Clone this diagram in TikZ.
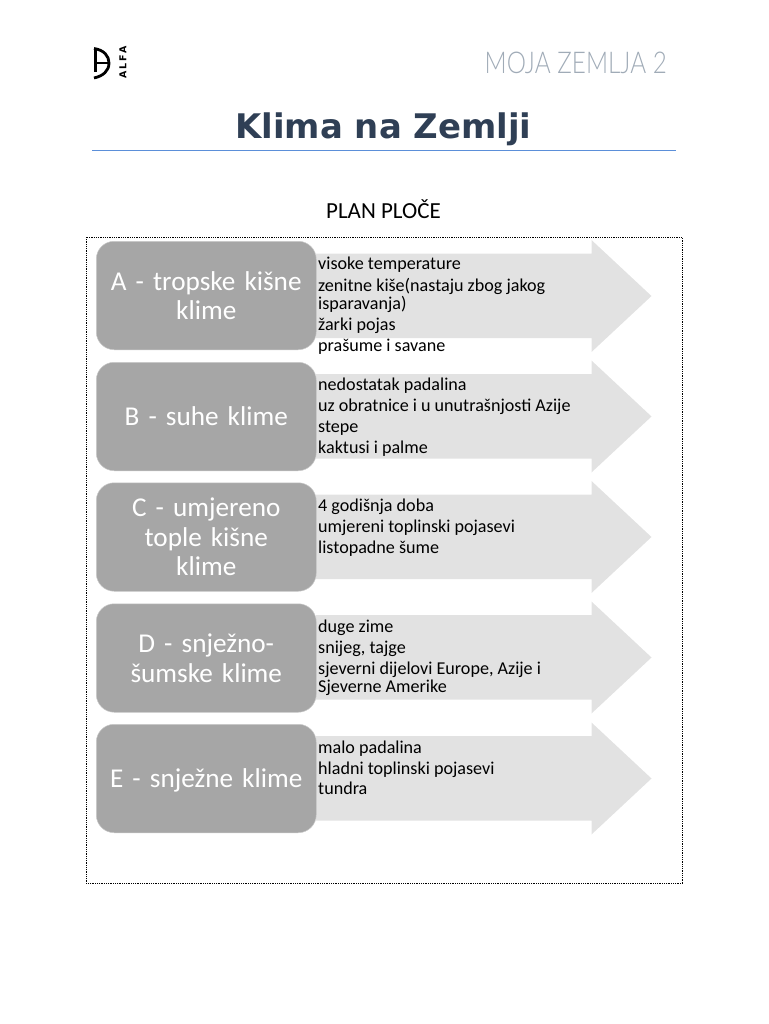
\documentclass[tikz,border=0pt]{standalone}
\usepackage{graphicx}
\usepackage{fontspec}
\setmainfont{Carlito}
\newfontfamily\titlefont{DejaVu Sans}
\newfontfamily\brandfont{Lato Light}
\newfontfamily\boxfont[WordSpace=0.8]{Carlito}
\definecolor{boxgray}{HTML}{A6A6A6}
\definecolor{arrowgray}{HTML}{E2E2E2}
\definecolor{titleblue}{HTML}{2F3F55}
\definecolor{rulerblue}{HTML}{5B8FD9}
\definecolor{brandgray}{HTML}{A0ABB7}
\tikzset{
  climatebox/.style={draw=boxgray!60!white,line width=0.5pt,fill=boxgray,rounded corners=18pt,minimum width=220pt,minimum height=108.5pt,anchor=north west,inner sep=0pt,text=white,align=center,text width=215pt,font=\boxfont\fontsize{27.2}{29.5}\selectfont},
  bodyline/.style={anchor=base west,inner sep=0pt,text=black,font=\fontsize{18.1}{20}\selectfont},
  arrowshape/.style={fill=arrowgray,draw=none}
}
\newcommand{\bigarrow}[1]{%
  \fill[arrowshape] (316,#1+13.5) -- (591.5,#1+13.5) -- (591.5,#1) -- (651.5,#1+56) -- (591.5,#1+112) -- (591.5,#1+98) -- (316,#1+98) -- cycle;}
\begin{document}
\begin{tikzpicture}[x=1pt,y=-1pt]
\useasboundingbox (0,0) rectangle (768,1024);
% logo
\draw[black,line width=2.8pt] (95.5,48.5) -- (95.5,72);
\draw[black,line width=2.8pt] (94,48.5) .. controls (104,50) and (109,56) .. (109,63) .. controls (109,71) and (103,76) .. (94,78);
\draw[black,line width=2.2pt] (95,63) -- (109,63);
\node[rotate=90,inner sep=0pt,font=\titlefont\bfseries\fontsize{9.5}{11}\selectfont,text=black] (alfa) at (123,62.5) {A\,L\,F\,A};
% brand
\node[inner sep=0pt,text=brandgray,font=\brandfont\fontsize{30}{32}\selectfont,anchor=base east] (brand) at (667,74) {\scalebox{0.81}[1]{MOJA ZEMLJA 2}};
% title
\node[inner sep=0pt,text=titleblue,font=\titlefont\bfseries\fontsize{33.9}{36}\selectfont] (title) at (383.5,129) {Klima na Zemlji};
\draw[rulerblue,line width=1pt] (92,151) -- (676,151);
\node[inner sep=0pt,text=black,font=\fontsize{23}{26}\selectfont] (plan) at (383.5,209.5) {PLAN PLOČE};
% frame
\draw[black,line width=0.8pt,densely dotted] (86,237) rectangle (682,883);
% arrows
\bigarrow{240}
\bigarrow{360.5}
\bigarrow{481}
\bigarrow{601.5}
\bigarrow{722.5}
% boxes
\node[climatebox] (boxa) at (96,241) {A - tropske kišne\\ klime};
\node[climatebox] (boxb) at (96,362) {B - suhe klime};
\node[climatebox] (boxc) at (96,482.5) {C - umjereno\\ tople kišne\\ klime};
\node[climatebox] (boxd) at (96,603.5) {D - snježno-\\šumske klime};
\node[climatebox] (boxe) at (96,724) {\rule[-4pt]{0pt}{27pt}E - snježne klime};
% texts
\node[bodyline] (a1) at (318,269) {visoke temperature};
\node[bodyline] (a2) at (318,291) {zenitne kiše(nastaju zbog jakog};
\node[bodyline] (a3) at (318,309) {isparavanja)};
\node[bodyline] (a4) at (318,330) {žarki pojas};
\node[bodyline] (a5) at (318,351) {prašume i savane};
\node[bodyline] (b1) at (318,390) {nedostatak padalina};
\node[bodyline] (b2) at (318,411) {uz obratnice i u unutrašnjosti Azije};
\node[bodyline] (b3) at (318,432) {stepe};
\node[bodyline] (b4) at (318,453.5) {kaktusi i palme};
\node[bodyline] (c1) at (318,511) {4 godišnja doba};
\node[bodyline] (c2) at (318,532) {umjereni toplinski pojasevi};
\node[bodyline] (c3) at (318,553) {listopadne šume};
\node[bodyline] (d1) at (318,632) {duge zime};
\node[bodyline] (d2) at (318,653) {snijeg, tajge};
\node[bodyline] (d3) at (318,674) {sjeverni dijelovi Europe, Azije i};
\node[bodyline] (d4) at (318,692.5) {Sjeverne Amerike};
\node[bodyline] (e1) at (318,753) {malo padalina};
\node[bodyline] (e2) at (318,774) {hladni toplinski pojasevi};
\node[bodyline] (e3) at (318,794.5) {tundra};
\end{tikzpicture}
\end{document}
